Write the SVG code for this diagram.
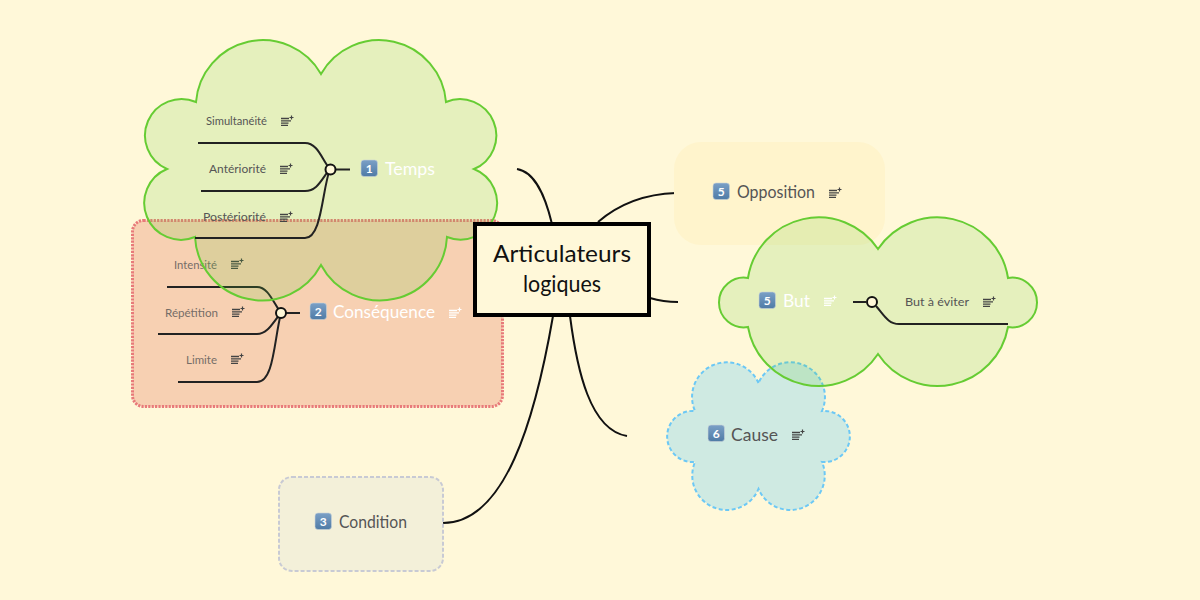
<svg xmlns="http://www.w3.org/2000/svg" width="1200" height="600" viewBox="0 0 1200 600">
<style>
text{font-family:"Lato","Open Sans","Liberation Sans",sans-serif}
.cloudG{fill:#66cc33;fill-opacity:.17;stroke:#66cc33;stroke-width:2}
.main{font-size:17px;fill:#555}
.white{font-size:17px;fill:#fff}
.sub{font-size:11px;fill:#555}
.num{font-size:12px;font-weight:700;fill:#fff;text-anchor:middle}
.wire{fill:none;stroke:#222;stroke-width:2}
.dot{fill:#fff8d9;stroke:#111;stroke-width:2}
.ic{color:#444}
.icw{color:#fff}
</style>
<defs>
<linearGradient id="bg" x1="0" y1="0" x2="0" y2="1"><stop offset="0" stop-color="#7ba0c6"/><stop offset="1" stop-color="#4f7ba6"/></linearGradient>
<symbol id="note" width="13" height="12" viewBox="0 0 13 12" overflow="visible">
<path d="M0 3.500H8M0 5.800H10M0 8.100H7.500M0 10.400H7" fill="none" stroke="currentColor" stroke-width="1.300"/>
<path d="M10.500 .5V4.500M8.500 2.500H12.500" fill="none" stroke="currentColor" stroke-width="1.200"/>
</symbol>
<rect id="badge" width="16.500" height="16.500" rx="3" fill="url(#bg)" stroke="#c9d3d8" stroke-width=".6"/>
</defs>
<rect width="1200" height="600" fill="#fff8d9"/>
<g id="connectors" fill="none" stroke="#111" stroke-width="2">
<path d="M517 169C535 172 545 195 552 224"/>
<path d="M598 222C620 203 645 194 676 193"/>
<path d="M650 298C660 301 668 302 678 302"/>
<path d="M570 316C577 370 590 430 627 436"/>
<path d="M553 316C535 420 505 523 443 523"/>
</g>
<g id="node-consequence">
<rect x="132.500" y="220.500" width="370" height="186" rx="11" fill="#d73019" fill-opacity=".2" stroke="#e87a7a" stroke-width="3" stroke-dasharray="2.200 1.200"/>
<path class="wire" d="M167 287H257C268 287 273 302 281 313M158 334H257C268 334 273 322 281 313M178 382H257C274 382 274 340 281 313M286 313H300"/>
<circle class="dot" cx="281" cy="313" r="5"/>
<use href="#badge" x="310" y="303"/><text class="num" x="318.300" y="315.700">2</text>
<text class="white" x="333" y="318" textLength="102" lengthAdjust="spacingAndGlyphs">Conséquence</text>
<use class="icw" href="#note" x="449" y="307"/>
<text class="sub" x="174" y="269" textLength="43" lengthAdjust="spacingAndGlyphs" opacity=".8">Intensité</text>
<use class="ic" href="#note" x="231" y="258"/>
<text class="sub" x="165" y="317" textLength="53" lengthAdjust="spacingAndGlyphs" opacity=".8">Répétition</text>
<use class="ic" href="#note" x="232" y="306"/>
<text class="sub" x="186" y="364" textLength="31" lengthAdjust="spacingAndGlyphs" opacity=".8">Limite</text>
<use class="ic" href="#note" x="231" y="353"/>
</g>
<g id="node-temps">
<path class="cloudG" d="M321 74A67 67 0 0 0 196 102A30 30 0 0 0 167 169A30 30 0 0 0 195 237A67 67 0 0 0 321 265A67 67 0 0 0 447 237A30 30 0 0 0 474 169A30 30 0 0 0 446 102A67 67 0 0 0 321 74Z"/>
<path class="wire" d="M198 143H305C318 143 322 160 330 169M201 191H305C318 191 322 178 330 169M195 238H305C322 238 322 190 330 169M336 169.500H350"/>
<circle class="dot" cx="330.500" cy="169.500" r="5"/>
<use href="#badge" x="361" y="160"/><text class="num" x="369.300" y="172.700">1</text>
<text class="white" x="385" y="175" textLength="50" lengthAdjust="spacingAndGlyphs">Temps</text>
<text class="sub" x="206" y="125" textLength="61" lengthAdjust="spacingAndGlyphs">Simultanéité</text>
<use class="ic" href="#note" x="281" y="115"/>
<text class="sub" x="209" y="173" textLength="57" lengthAdjust="spacingAndGlyphs">Antériorité</text>
<use class="ic" href="#note" x="280" y="163"/>
<text class="sub" x="203" y="221" textLength="63" lengthAdjust="spacingAndGlyphs">Postériorité</text>
<use class="ic" href="#note" x="280" y="211"/>
</g>
<g id="node-root">
<rect x="475" y="224" width="174" height="91" fill="#fff8d9" stroke="#000" stroke-width="4"/>
<text x="562" y="262" font-size="23" fill="#111" text-anchor="middle" textLength="138" lengthAdjust="spacingAndGlyphs">Articulateurs</text>
<text x="562" y="292" font-size="24" fill="#111" text-anchor="middle" textLength="78" lengthAdjust="spacingAndGlyphs">logiques</text>
</g>
<g id="node-opposition">
<rect x="674" y="142" width="211" height="103" rx="27" fill="#fff4cc"/>
<use href="#badge" x="713" y="183"/><text class="num" x="721.300" y="195.700">5</text>
<text class="main" x="737" y="198" textLength="78" lengthAdjust="spacingAndGlyphs">Opposition</text>
<use class="ic" href="#note" x="829" y="187"/>
</g>
<g id="node-cause">
<path d="M758.500 383A30 30 0 0 0 695 411A25.600 25.600 0 1 0 695 462A30 30 0 0 0 758.500 489A30 30 0 0 0 822 462A25.600 25.600 0 1 0 822 411A30 30 0 0 0 758.500 383Z" fill="#cfeae2" stroke="#6cc8f5" stroke-width="2" stroke-dasharray="4 2.500"/>
<use href="#badge" x="708" y="425"/><text class="num" x="716.300" y="437.700">6</text>
<text class="main" x="731" y="441" textLength="47" lengthAdjust="spacingAndGlyphs">Cause</text>
<use class="ic" href="#note" x="792" y="429"/>
</g>
<g id="node-but">
<path class="cloudG" d="M878 249A71.500 71.500 0 0 0 748 278A24.850 24.850 0 1 0 748 327A71.500 71.500 0 0 0 878 354A71.500 71.500 0 0 0 1008 327A24.850 24.850 0 1 0 1008 278A71.500 71.500 0 0 0 878 249Z"/>
<path class="wire" d="M853 302H866M876 306C884 315 888 324 899 324H1008"/>
<circle class="dot" cx="872" cy="302" r="5"/>
<use href="#badge" x="759" y="292"/><text class="num" x="767.300" y="304.700">5</text>
<text class="white" x="783" y="307" textLength="27" lengthAdjust="spacingAndGlyphs">But</text>
<use class="icw" href="#note" x="824" y="295"/>
<text class="sub" x="905" y="306" textLength="64" lengthAdjust="spacingAndGlyphs">But à éviter</text>
<use class="ic" href="#note" x="983" y="296"/>
</g>
<g id="node-condition">
<rect x="279" y="477" width="164" height="94" rx="13" fill="#f3f0d9" stroke="#c8cad4" stroke-width="2" stroke-dasharray="4 2"/>
<use href="#badge" x="315" y="513"/><text class="num" x="323.300" y="525.700">3</text>
<text class="main" x="339" y="528" textLength="68" lengthAdjust="spacingAndGlyphs">Condition</text>
</g>
</svg>
